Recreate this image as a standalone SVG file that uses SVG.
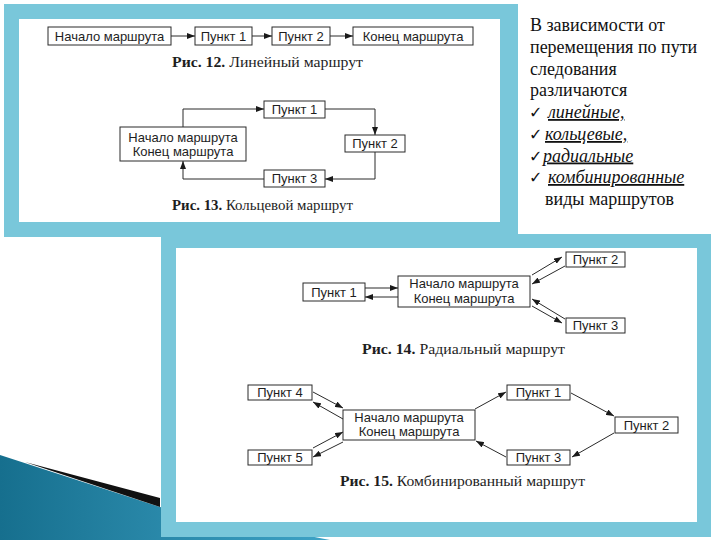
<svg xmlns="http://www.w3.org/2000/svg" width="720" height="540" viewBox="0 0 720 540">
<defs>
<style>
.frame{fill:#79c7da}
.inner{fill:#ffffff}
.box{fill:#ffffff;stroke:#2a2a2a;stroke-width:1}
.lbl{font-family:"Liberation Sans",Arial,sans-serif;font-size:13px;fill:#1e1e1e;text-anchor:middle}
.cap{font-family:"Liberation Serif","Times New Roman",serif;font-size:14px;fill:#1e1e1e;text-anchor:middle}
.cap tspan.b{font-weight:bold}
.con{fill:none;stroke:#2a2a2a;stroke-width:1}
.chk{font-family:"DejaVu Sans",sans-serif;font-size:16px;font-weight:bold;fill:#111}
</style>
<marker id="ah" viewBox="0 0 8 6" refX="8" refY="3" markerWidth="8" markerHeight="6" markerUnits="userSpaceOnUse" orient="auto">
<path d="M0,0 L8,3 L0,6 Z" fill="#1a1a1a"/>
</marker>
<linearGradient id="teal" x1="0" y1="0" x2="1" y2="0">
<stop offset="0" stop-color="#166f8e"/>
<stop offset="1" stop-color="#3ea3c6"/>
</linearGradient>
</defs>

<rect width="720" height="540" fill="#ffffff"/>

<g id="decoration">
<polygon points="0,455 160,507 330,540 0,540" fill="url(#teal)"/>
<polygon points="25,462 160,498 160,507" fill="#111"/>
</g>

<g id="panel-top">
<rect class="frame" x="4" y="4" width="514" height="233"/>
<rect class="inner" x="19" y="19" width="481" height="203"/>
</g>
<g id="panel-bottom">
<rect class="frame" x="161" y="234" width="550" height="303"/>
<rect class="inner" x="176" y="248" width="521" height="274"/>
</g>

<g id="connectors">
<line class="con" x1="171" y1="36" x2="195" y2="36" marker-end="url(#ah)"/>
<line class="con" x1="252" y1="36" x2="272" y2="36" marker-end="url(#ah)"/>
<line class="con" x1="330" y1="36" x2="353" y2="36" marker-end="url(#ah)"/>
<polyline class="con" points="183,127 183,109 264,109" marker-end="url(#ah)"/>
<polyline class="con" points="325,109 375,109 375,135" marker-end="url(#ah)"/>
<polyline class="con" points="375,152 375,179 325,179" marker-end="url(#ah)"/>
<polyline class="con" points="264,179 183,179 183,161" marker-end="url(#ah)"/>
<line class="con" x1="365" y1="288" x2="398" y2="288" marker-end="url(#ah)"/>
<line class="con" x1="398" y1="297" x2="365" y2="297" marker-end="url(#ah)"/>
<line class="con" x1="532" y1="275" x2="562" y2="257" marker-end="url(#ah)"/>
<line class="con" x1="565" y1="266" x2="532" y2="284" marker-end="url(#ah)"/>
<line class="con" x1="565" y1="319" x2="532" y2="299" marker-end="url(#ah)"/>
<line class="con" x1="532" y1="306" x2="562" y2="323" marker-end="url(#ah)"/>
<line class="con" x1="313" y1="392" x2="343" y2="408" marker-end="url(#ah)"/>
<line class="con" x1="343" y1="419" x2="313" y2="402" marker-end="url(#ah)"/>
<line class="con" x1="313" y1="448" x2="343" y2="432" marker-end="url(#ah)"/>
<line class="con" x1="343" y1="442" x2="313" y2="457" marker-end="url(#ah)"/>
<line class="con" x1="475" y1="409" x2="506" y2="392" marker-end="url(#ah)"/>
<line class="con" x1="571" y1="393" x2="614" y2="416" marker-end="url(#ah)"/>
<line class="con" x1="614" y1="433" x2="572" y2="457" marker-end="url(#ah)"/>
<line class="con" x1="506" y1="457" x2="476" y2="441" marker-end="url(#ah)"/>
</g>

<g id="f12-start"><rect class="box" x="48" y="27" width="123" height="18"/><text class="lbl" x="109.5" y="40.5">Начало маршрута</text></g>
<g id="f12-p1"><rect class="box" x="195" y="27" width="57" height="18"/><text class="lbl" x="223.5" y="40.5">Пункт 1</text></g>
<g id="f12-p2"><rect class="box" x="272" y="27" width="58" height="18"/><text class="lbl" x="301" y="40.5">Пункт 2</text></g>
<g id="f12-end"><rect class="box" x="353" y="27" width="120" height="18"/><text class="lbl" x="413" y="40.5">Конец маршрута</text></g>
<text class="cap" x="267.5" y="67" textLength="191" lengthAdjust="spacingAndGlyphs"><tspan class="b">Рис. 12.</tspan> Линейный маршрут</text>

<g id="f13-start"><rect class="box" x="120" y="127" width="126" height="34"/><text class="lbl" x="183" y="141.5">Начало маршрута</text><text class="lbl" x="183" y="156">Конец маршрута</text></g>
<g id="f13-p1"><rect class="box" x="264" y="101" width="61" height="17"/><text class="lbl" x="294.5" y="114">Пункт 1</text></g>
<g id="f13-p2"><rect class="box" x="345" y="135" width="60" height="17"/><text class="lbl" x="375" y="148">Пункт 2</text></g>
<g id="f13-p3"><rect class="box" x="264" y="170" width="61" height="17"/><text class="lbl" x="294.5" y="183">Пункт 3</text></g>
<text class="cap" x="262.5" y="210" textLength="181" lengthAdjust="spacingAndGlyphs"><tspan class="b">Рис. 13.</tspan> Кольцевой маршрут</text>

<g id="f14-center"><rect class="box" x="398" y="276" width="132" height="31"/><text class="lbl" x="464" y="288">Начало маршрута</text><text class="lbl" x="464" y="302.5">Конец маршрута</text></g>
<g id="f14-p1"><rect class="box" x="303" y="283" width="62" height="18"/><text class="lbl" x="334" y="296.5">Пункт 1</text></g>
<g id="f14-p2"><rect class="box" x="566" y="252" width="59" height="15"/><text class="lbl" x="595.5" y="264">Пункт 2</text></g>
<g id="f14-p3"><rect class="box" x="566" y="318" width="59" height="15"/><text class="lbl" x="595.5" y="330">Пункт 3</text></g>
<text class="cap" x="463.5" y="354" textLength="203" lengthAdjust="spacingAndGlyphs"><tspan class="b">Рис. 14.</tspan> Радиальный маршрут</text>

<g id="f15-center"><rect class="box" x="343" y="410" width="132" height="30"/><text class="lbl" x="409" y="422">Начало маршрута</text><text class="lbl" x="409" y="436">Конец маршрута</text></g>
<g id="f15-p4"><rect class="box" x="248" y="385" width="64" height="15"/><text class="lbl" x="280" y="397">Пункт 4</text></g>
<g id="f15-p5"><rect class="box" x="248" y="450" width="64" height="15"/><text class="lbl" x="280" y="462">Пункт 5</text></g>
<g id="f15-p1"><rect class="box" x="507" y="385" width="63" height="15"/><text class="lbl" x="538.5" y="397">Пункт 1</text></g>
<g id="f15-p2"><rect class="box" x="615" y="417" width="63" height="16"/><text class="lbl" x="646.5" y="429.5">Пункт 2</text></g>
<g id="f15-p3"><rect class="box" x="507" y="450" width="63" height="15"/><text class="lbl" x="538.5" y="462">Пункт 3</text></g>
<text class="cap" x="462.5" y="486" textLength="245" lengthAdjust="spacingAndGlyphs"><tspan class="b">Рис. 15.</tspan> Комбинированный маршрут</text>

<g id="side-text" font-family="'Liberation Serif', 'Times New Roman', serif" font-size="18" fill="#111">
<text x="530" y="31">В зависимости от</text>
<text x="530" y="53">перемещения по пути</text>
<text x="530" y="74.5">следования</text>
<text x="530" y="96">различаются</text>
<text class="chk" x="529" y="118">✓</text><text x="548" y="118" font-style="italic" text-decoration="underline">линейные,</text>
<text class="chk" x="529" y="140">✓</text><text x="545" y="140" font-style="italic" text-decoration="underline">кольцевые,</text>
<text class="chk" x="529" y="161.5">✓</text><text x="543" y="161.5" font-style="italic" text-decoration="underline">радиальные</text>
<text class="chk" x="529" y="183">✓</text><text x="548" y="183" font-style="italic" text-decoration="underline">комбинированные</text>
<text x="545" y="205">виды маршрутов</text>
</g>
</svg>
